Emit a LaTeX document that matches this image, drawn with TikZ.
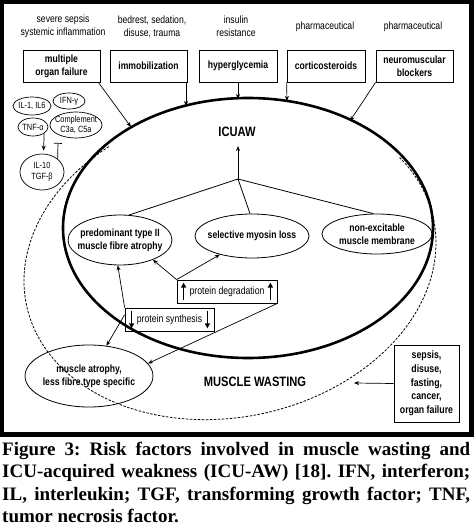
\documentclass[tikz,border=0pt]{standalone}
\usepackage{fontspec}
\setmainfont{Liberation Sans}[FakeStretch=0.82]
\newfontfamily\capfont{Liberation Serif}
\usetikzlibrary{shapes.geometric,arrows.meta,calc}
\frenchspacing
\begin{document}
\begin{tikzpicture}[x=1pt,y=1pt,
  lbl/.style={font=\fontsize{10.5}{13}\selectfont, align=center, inner sep=0},
  rbox/.style={draw, line width=0.8pt, font=\bfseries\fontsize{10.5}{13}\selectfont, align=center, minimum height=32pt, inner sep=0},
  oval/.style={ellipse, draw, line width=0.8pt, inner sep=0},
  otext/.style={font=\bfseries\fontsize{10.5}{13}\selectfont, align=center, inner sep=0},
  cyto/.style={ellipse, draw, line width=0.7pt, inner sep=0},
  ctext/.style={font=\fontsize{9}{10.5}\selectfont, align=center, inner sep=0},
  arr/.style={-{Stealth[length=5pt,width=4pt]}, line width=0.7pt},
  plainline/.style={line width=0.8pt},
  pbox/.style={draw, line width=0.8pt, font=\fontsize{10.6}{12}\selectfont, minimum height=23pt, inner xsep=0, inner ysep=0},
  fatarrow/.style={-{Triangle[length=5pt,width=5pt]}, line width=1.6pt},
  bigtxt/.style={font=\bfseries\fontsize{13.6}{16}\selectfont, inner sep=0},
  captxt/.style={anchor=base west, inner sep=0, font=\capfont\bfseries\fontsize{19}{23}\selectfont}
]
\useasboundingbox (0,0) rectangle (474,-526);
\fill[white] (0,0) rectangle (474,-526);
\draw[line width=4.5pt] (2,-2) rectangle (471.5,-434.5);

% top labels
\node[lbl] (t1) at (63,-26.5) {severe sepsis\\systemic inflammation};
\node[lbl] (t2) at (152,-26.5) {bedrest, sedation,\\disuse, trauma};
\node[lbl] (t3) at (236,-26.5) {insulin\\resistance};
\node[lbl] (t4) at (325,-27) {pharmaceutical};
\node[lbl] (t5) at (413,-27) {pharmaceutical};

% risk factor boxes
\node[rbox, minimum width=77pt] (mof) at (61.5,-66) {multiple\\organ failure};
\node[rbox, minimum width=77pt] (imm) at (148.5,-66) {immobilization};
\node[rbox, minimum width=78pt] (hyp) at (238,-66) {hyperglycemia};
\node[rbox, minimum width=78pt] (cort) at (326,-66) {corticosteroids};
\node[rbox, minimum width=77pt] (nmb) at (414.5,-66) {neuromuscular\\blockers};

% big ellipses
\node[ellipse, draw, line width=2.6pt, minimum width=370pt, minimum height=260pt, inner sep=0] (icu) at (248,-228) {};
\begin{scope}[shift={(230,-262)}, rotate=12]
  \draw[line width=0.8pt, dash pattern=on 2.5pt off 1.5pt] (117:208 and 155) arc[start angle=117, end angle=386, x radius=208, y radius=155];
\end{scope}

\node[bigtxt] (icuaw) at (237,-132) {ICUAW};
\node[bigtxt] (mw) at (255,-382) {MUSCLE WASTING};

% arrows into ICUAW
\coordinate (e1) at (131,-127);
\coordinate (e2) at (186,-106);
\coordinate (e3) at (238,-99);
\coordinate (e4) at (287,-101);
\coordinate (e5) at (350,-121);
\draw[arr] ([xshift=-2pt]mof.south east) -- (e1);
\draw[arr] (imm.south east -| e2) -- (e2);
\draw[arr] (hyp.south) -- (e3);
\draw[arr] (cort.south west) -- (e4);
\draw[arr] (nmb.south west) -- (e5);

% inner ellipses
\node[oval, minimum width=104pt, minimum height=50pt] (pred) at (120,-240) {};
\node[otext] (predt) at (120,-240) {predominant type II\\muscle fibre atrophy};
\node[oval, minimum width=114pt, minimum height=44pt] (sel) at (252,-236) {};
\node[otext] (selt) at (252,-236) {selective myosin loss};
\node[oval, minimum width=110pt, minimum height=40pt] (nonex) at (377,-234) {};
\node[otext] (nonext) at (377,-234) {non-excitable\\muscle membrane};
\node[oval, minimum width=128pt, minimum height=62pt] (ma) at (89,-376) {};
\node[otext] (mat) at (89,-376) {muscle atrophy,\\less fibre type specific};

\coordinate (J) at (238,-179);
\draw[arr] (J) -- ($(J |- icuaw.south)+(0,-9)$);
\draw[plainline] (J) -- (pred.70);
\draw[plainline] (J) -- (sel.95);
\draw[plainline] (J) -- (nonex.100);

% protein boxes
\node[pbox, minimum width=100pt] (pd) at (227,-291.5) {protein degradation};
\node[pbox, minimum width=89pt] (ps) at (169.5,-319.5) {protein synthesis};
\draw[fatarrow] ($(pd.south west)+(7,3)$) -- ($(pd.north west)+(7,-3)$);
\draw[fatarrow] ($(pd.south east)+(-7,3)$) -- ($(pd.north east)+(-7,-3)$);
\draw[fatarrow] ($(ps.north west)+(7,-3)$) -- ($(ps.south west)+(7,3)$);
\draw[fatarrow] ($(ps.north east)+(-7,-3)$) -- ($(ps.south east)+(-7,3)$);

\draw[arr] (pd.north west) -- (pred.-31);
\draw[arr] (pd.north west) -- (sel.-150);
\draw[arr] (pd.south east) -- (ma.12);
\draw[arr] (ps.north west) -- (pred.-95);
\draw[arr] ($(ps.north west)!0.3!(ps.south west)$) -- (ma.60);

% sepsis box
\node[rbox, minimum width=65pt, minimum height=77pt, font=\bfseries\fontsize{10.7}{13.7}\selectfont] (sb) at (426.5,-383.5) {sepsis,\\disuse,\\fasting,\\cancer,\\organ failure};
\coordinate (dw) at (354,-383);
\draw[arr] (sb.west) -- (dw);

% cytokines
\node[cyto, minimum width=32pt, minimum height=16pt] (ifn) at (69,-101) {};
\node[ctext] (ifnt) at (69,-101) {IFN-γ};
\node[cyto, minimum width=38pt, minimum height=18pt] (il16) at (32,-106) {};
\node[ctext] (il16t) at (32,-106) {IL-1, IL6};
\node[cyto, minimum width=30pt, minimum height=18pt] (tnf) at (33,-127) {};
\node[ctext] (tnft) at (33,-127) {TNF-α};
\node[cyto, minimum width=52pt, minimum height=26pt] (comp) at (76,-125) {};
\node[ctext] (compt) at (76,-125) {Complement\\C3a, C5a};
\node[cyto, minimum width=44pt, minimum height=36pt] (il10) at (42,-172) {};
\node[ctext] (il10t) at (42,-172) {IL-10\\TGF-β};
\coordinate (tb) at (58,-143);
\draw[arr] (tnf.-30) -- ([yshift=3pt]il10.85);
\draw[line width=0.7pt, -{Bar[width=8pt]}] (il10.40) -- (tb);

% caption
\node[captxt] (c1) at (2,-455) {\makebox[468pt][s]{Figure 3: Risk factors involved in muscle wasting and}};
\node[captxt] (c2) at (2,-477.5) {\makebox[468pt][s]{ICU-acquired weakness (ICU-AW) [18]. IFN, interferon;}};
\node[captxt] (c3) at (2,-500) {\makebox[468pt][s]{IL, interleukin; TGF, transforming growth factor; TNF,}};
\node[captxt] (c4) at (2,-522) {tumor necrosis factor.};
\end{tikzpicture}
\end{document}
